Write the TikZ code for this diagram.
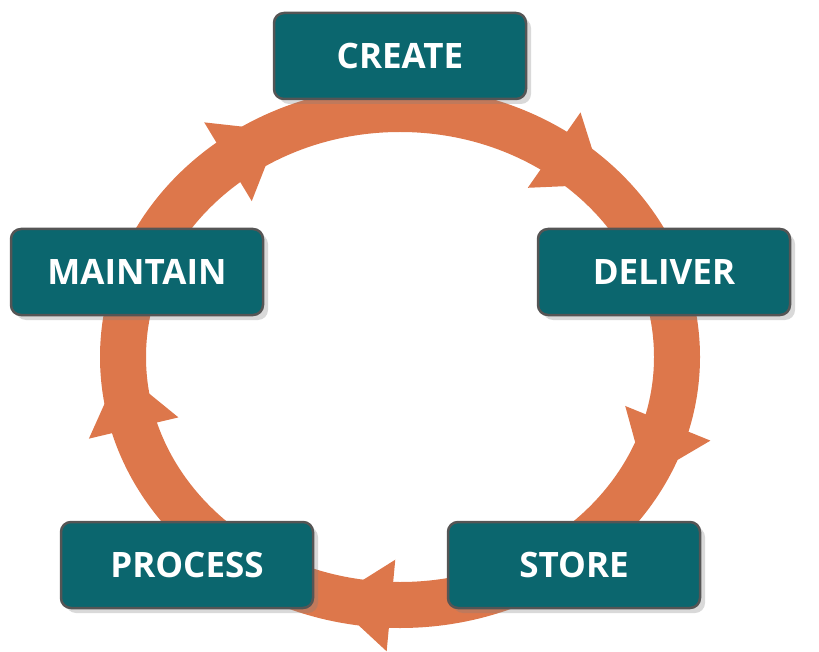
\documentclass[tikz,border=0pt]{standalone}
\usepackage{fontspec}
\setmainfont{Open Sans}
\usetikzlibrary{shadows}
\definecolor{teal1}{HTML}{0B666E}
\definecolor{ring}{HTML}{DD774B}
\definecolor{edge}{HTML}{555555}
\begin{document}
\begin{tikzpicture}[x=1pt,y=1pt,
  box/.style={draw=edge,line width=2.5pt,fill=teal1,rounded corners=10pt,minimum width=252pt,minimum height=86pt,
    text=white,font=\fontsize{35}{38}\selectfont\bfseries,drop shadow={shadow xshift=5pt,shadow yshift=-5pt,opacity=0.3}}]
\useasboundingbox (0,0) rectangle (819,-652);
\draw[ring,line width=46pt] (400,-357) ellipse [x radius=277,y radius=248];
\foreach \t in {-124,-52,20,96,168}{
  \pgfmathsetmacro\px{400+277*cos(\t)}
  \pgfmathsetmacro\py{357+248*sin(\t)}
  \pgfmathsetmacro\dx{-2.77*sin(\t)}
  \pgfmathsetmacro\dy{2.48*cos(\t)}
  \pgfmathsetmacro\dl{sqrt(\dx*\dx+\dy*\dy)}
  \pgfmathsetmacro\ux{\dx/\dl}
  \pgfmathsetmacro\uy{\dy/\dl}
  \fill[ring] ({\px+40*\ux},{-(\py+40*\uy)}) -- ({\px-20*\ux-46*\uy},{-(\py-20*\uy+46*\ux)}) -- ({\px-20*\ux+46*\uy},{-(\py-20*\uy-46*\ux)}) -- cycle;
}
\node[box] (create) at (400,-56) {CREATE};
\node[box] (deliver) at (664,-272) {DELIVER};
\node[box] (maintain) at (137,-272) {MAINTAIN};
\node[box] (process) at (187,-565) {PROCESS};
\node[box] (store) at (574,-565) {STORE};
\end{tikzpicture}
\end{document}
